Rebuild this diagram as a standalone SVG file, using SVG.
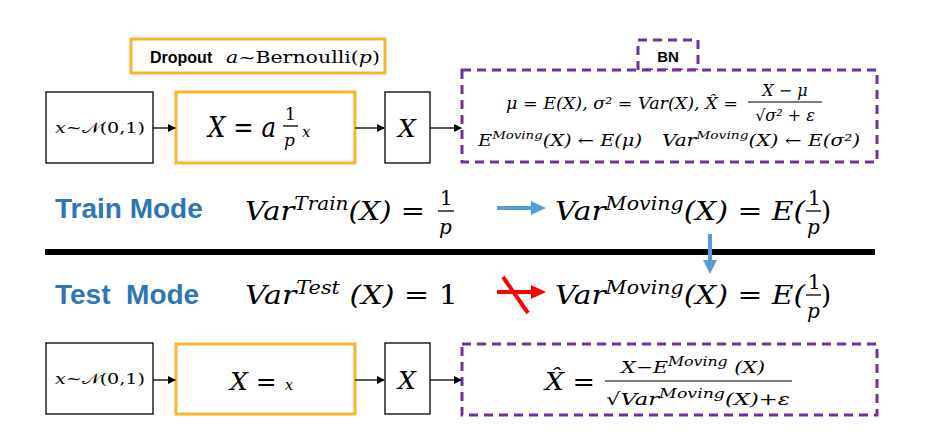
<svg xmlns="http://www.w3.org/2000/svg" width="950" height="446" viewBox="0 0 950 446">
<style>
.m{font-family:"DejaVu Serif","Liberation Serif",serif;font-style:italic;fill:#000}
.r{font-family:"DejaVu Serif","Liberation Serif",serif;fill:#000}
.blk{fill:#fff;stroke:#000;stroke-width:1.3}
.or{fill:#fff;stroke:#F9B62D;stroke-width:3}
.bn{fill:#fff;stroke:#7030A0;stroke-width:3;stroke-dasharray:9 6}
.mode{font-family:"Liberation Sans",sans-serif;font-weight:bold;font-size:28px;fill:#2E75B6}
.c{stroke:#000;stroke-width:1.3;fill:none;marker-end:url(#ah)}
</style>
<defs>
<marker id="ah" markerWidth="8" markerHeight="8" refX="7" refY="4" orient="auto" markerUnits="userSpaceOnUse"><path d="M0,0 L8,4 L0,8z" fill="#000"/></marker>
</defs>
<rect width="950" height="446" fill="#fff"/>
<g id="dropout-label"><rect x="131" y="39" width="254" height="34" class="or"/>
<text x="150" y="63" font-family="Liberation Sans,sans-serif" font-weight="bold" font-size="16">Dropout</text>
<text x="226" y="63" class="r" font-size="17" textLength="154" lengthAdjust="spacingAndGlyphs"><tspan font-style="italic">a</tspan>~Bernoulli(<tspan font-style="italic">p</tspan>)</text></g>
<g id="in1"><rect x="46" y="92" width="107" height="71" class="blk"/><text x="55" y="133" class="r" font-size="15" textLength="90" lengthAdjust="spacingAndGlyphs"><tspan font-style="italic">x</tspan>~𝒩(0,1)</text></g>
<g id="drop1"><rect x="176" y="92" width="179" height="71" class="or"/>
<text x="208" y="137" class="m" font-size="27" textLength="68" lengthAdjust="spacingAndGlyphs">X = a</text>
<text x="285" y="120" class="r" font-size="17">1</text><line x1="283" y1="126" x2="298" y2="126" stroke="#000" stroke-width="1.3"/><text x="284" y="146" class="m" font-size="17">p</text>
<text x="302" y="137" class="m" font-size="15">x</text></g>
<g id="x1"><rect x="385" y="92" width="45" height="71" class="blk"/><text x="407" y="137" class="m" font-size="25" text-anchor="middle">X</text></g>
<g id="bn1"><rect x="638" y="40" width="60" height="30" class="bn"/><text x="668" y="62" font-family="Liberation Sans,sans-serif" font-weight="bold" font-size="15" text-anchor="middle">BN</text>
<rect x="462" y="70" width="415" height="92" class="bn"/>
<text x="506" y="109" class="m" font-size="16" textLength="232" lengthAdjust="spacingAndGlyphs">μ = E(X), σ² = Var(X), X̂ =</text>
<text x="785" y="96" class="m" font-size="16" text-anchor="middle">X − μ</text>
<line x1="748" y1="102" x2="822" y2="102" stroke="#000" stroke-width="1"/>
<text x="785" y="121" class="m" font-size="16" text-anchor="middle">√σ² + ε</text>
<text x="478" y="146" class="m" font-size="16" textLength="164" lengthAdjust="spacingAndGlyphs">E<tspan font-size="11" dy="-7">Moving</tspan><tspan dy="7">(X) ← E(μ)</tspan></text>
<text x="662" y="146" class="m" font-size="16" textLength="198" lengthAdjust="spacingAndGlyphs">Var<tspan font-size="11" dy="-7">Moving</tspan><tspan dy="7">(X) ← E(σ²)</tspan></text></g>
<g id="train"><text x="55" y="218" class="mode">Train Mode</text>
<text x="245" y="220" class="m" font-size="26" textLength="180" lengthAdjust="spacingAndGlyphs">Var<tspan font-size="18" dy="-10">Train</tspan><tspan dy="10">(X) =</tspan></text>
<text x="440" y="205" class="r" font-size="20">1</text><line x1="438" y1="211" x2="454" y2="211" stroke="#000" stroke-width="1.3"/><text x="439" y="234" class="m" font-size="20">p</text>
<text x="555" y="220" class="m" font-size="26" textLength="250" lengthAdjust="spacingAndGlyphs">Var<tspan font-size="18" dy="-10">Moving</tspan><tspan dy="10">(X) = E(</tspan></text>
<text x="808" y="205" class="r" font-size="20">1</text><line x1="806" y1="211" x2="821" y2="211" stroke="#000" stroke-width="1.3"/><text x="807" y="234" class="m" font-size="20">p</text><text x="821" y="220" class="r" font-size="26">)</text></g>
<g id="test"><text x="55" y="304" class="mode" xml:space="preserve">Test  Mode</text>
<text x="245" y="304" class="m" font-size="26" textLength="213" lengthAdjust="spacingAndGlyphs">Var<tspan font-size="18" dy="-10">Test</tspan><tspan dy="10">  (X) = </tspan><tspan font-style="normal">1</tspan></text>
<text x="555" y="304" class="m" font-size="26" textLength="250" lengthAdjust="spacingAndGlyphs">Var<tspan font-size="18" dy="-10">Moving</tspan><tspan dy="10">(X) = E(</tspan></text>
<text x="808" y="289" class="r" font-size="20">1</text><line x1="806" y1="295" x2="821" y2="295" stroke="#000" stroke-width="1.3"/><text x="807" y="318" class="m" font-size="20">p</text><text x="821" y="304" class="r" font-size="26">)</text></g>
<g id="in2"><rect x="46" y="343" width="107" height="71" class="blk"/><text x="55" y="384" class="r" font-size="15" textLength="90" lengthAdjust="spacingAndGlyphs"><tspan font-style="italic">x</tspan>~𝒩(0,1)</text></g>
<g id="drop2"><rect x="176" y="344" width="179" height="70" class="or"/><text x="230" y="390" class="m" font-size="25">X = <tspan font-size="15">x</tspan></text></g>
<g id="x2"><rect x="385" y="343" width="45" height="71" class="blk"/><text x="407" y="389" class="m" font-size="25" text-anchor="middle">X</text></g>
<g id="bn2"><rect x="462" y="344" width="415" height="71" class="bn"/>
<text x="545" y="390" class="m" font-size="25" textLength="50" lengthAdjust="spacingAndGlyphs">X̂ =</text>
<text x="621" y="373" class="m" font-size="17" textLength="144" lengthAdjust="spacingAndGlyphs">X−E<tspan font-size="13" dy="-7">Moving</tspan><tspan dy="7"> (X)</tspan></text>
<line x1="605" y1="381" x2="792" y2="381" stroke="#000" stroke-width="1.2"/>
<text x="606" y="405" class="m" font-size="17" textLength="184" lengthAdjust="spacingAndGlyphs">√Var<tspan font-size="13" dy="-7">Moving</tspan><tspan dy="7">(X)+ε</tspan></text></g>
<g id="connectors">
<line x1="153" y1="128" x2="175" y2="128" class="c"/>
<line x1="355" y1="128" x2="384" y2="128" class="c"/>
<line x1="430" y1="128" x2="461" y2="128" class="c"/>
<line x1="153" y1="380" x2="175" y2="380" class="c"/>
<line x1="355" y1="380" x2="384" y2="380" class="c"/>
<line x1="430" y1="380" x2="461" y2="380" class="c"/>
<line x1="45" y1="252" x2="875" y2="252" stroke="#000" stroke-width="6"/>
<line x1="497" y1="208" x2="533" y2="208" stroke="#5B9BD5" stroke-width="4"/><path d="M531,201 L546,208 L531,215z" fill="#5B9BD5"/>
<line x1="710" y1="234" x2="710" y2="262" stroke="#5B9BD5" stroke-width="4"/><path d="M703,260 L710,274 L717,260z" fill="#5B9BD5"/>
<line x1="497" y1="292" x2="533" y2="292" stroke="#FF0000" stroke-width="4"/><path d="M531,285 L546,292 L531,299z" fill="#FF0000"/>
<line x1="503" y1="277" x2="528" y2="313" stroke="#FF0000" stroke-width="4"/>
</g>
</svg>
